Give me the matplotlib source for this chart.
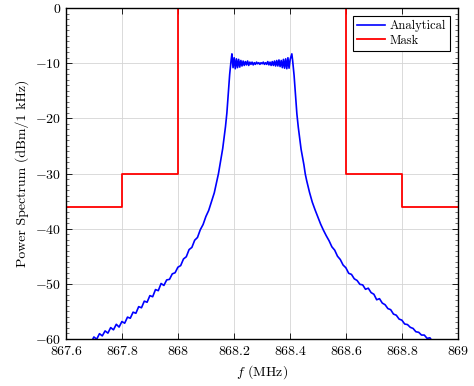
import numpy as np
import matplotlib
matplotlib.use("Agg")
import matplotlib.pyplot as plt
from matplotlib.ticker import MultipleLocator

plt.rcParams['font.family'] = 'serif'
plt.rcParams['font.serif'] = ['cmr10', 'DejaVu Serif']
plt.rcParams['mathtext.fontset'] = 'cm'
plt.rcParams['axes.formatter.use_mathtext'] = True

# Analytical spectrum (MHz, dBm/1kHz)
freq = [867.68, 867.69, 867.70, 867.71, 867.72, 867.73, 867.74, 867.75, 867.76, 867.77,
        867.78, 867.79, 867.80, 867.81, 867.82, 867.83, 867.84, 867.85, 867.86, 867.87,
        867.88, 867.89, 867.90, 867.91, 867.92, 867.93, 867.94, 867.95, 867.96, 867.97,
        867.98, 867.99, 868.00, 868.01, 868.02, 868.03, 868.04, 868.05, 868.06, 868.07,
        868.08, 868.09, 868.10, 868.11, 868.12, 868.13, 868.14, 868.145, 868.15, 868.16,
        868.17, 868.175, 868.18, 868.185, 868.19, 868.193,
        868.197, 868.201, 868.205, 868.209, 868.213, 868.217, 868.221, 868.225, 868.229,
        868.233, 868.237, 868.241, 868.245, 868.249, 868.253, 868.257, 868.261, 868.265,
        868.269, 868.273, 868.277, 868.281, 868.285, 868.289, 868.293, 868.297, 868.301,
        868.305, 868.309, 868.313, 868.317, 868.321, 868.325, 868.329, 868.333, 868.337,
        868.341, 868.345, 868.349, 868.353, 868.357, 868.361, 868.365, 868.369, 868.373,
        868.377, 868.381, 868.385, 868.389, 868.393, 868.397, 868.401, 868.407,
        868.41, 868.415, 868.42, 868.425, 868.43, 868.44, 868.45, 868.455, 868.46, 868.47,
        868.48, 868.49, 868.50, 868.51, 868.52, 868.53, 868.54, 868.55, 868.56, 868.57,
        868.58, 868.59, 868.60, 868.61, 868.62, 868.63, 868.64, 868.65, 868.66, 868.67,
        868.68, 868.69, 868.70, 868.71, 868.72, 868.73, 868.74, 868.75, 868.76, 868.77,
        868.78, 868.79, 868.80, 868.81, 868.82, 868.83, 868.84, 868.85, 868.86, 868.87,
        868.88, 868.89, 868.90, 868.91, 868.92, 868.93]
power = [-60.25, -60.65, -59.65, -60.05, -59.05, -59.45, -58.55, -58.95, -57.95, -58.35,
         -57.35, -57.85, -56.85, -57.15, -56.05, -56.25, -55.15, -55.35, -54.15, -54.35,
         -53.15, -53.35, -52.15, -52.35, -51.05, -51.25, -49.95, -50.3, -49.3, -49.2,
         -48.2, -48.0, -47.0, -46.7, -45.5, -45.1, -43.8, -43.4, -42.1, -41.6,
         -40.2, -39.25, -37.8, -36.7, -35.1, -33.5, -31.2, -30.0, -28.5, -25.5,
         -21.5, -19.0, -15.5, -12.0, -9.5, -8.3,
         -10.8, -9.0, -11.0, -9.2, -10.8, -9.3, -10.7, -9.5, -10.5,
         -9.6, -10.4, -9.7, -10.3, -9.6, -10.4, -9.8, -10.2, -9.8,
         -10.3, -9.9, -10.2, -9.8, -10.1, -9.9, -10.2, -9.9, -10.1,
         -9.8, -10.2, -9.9, -10.2, -9.7, -10.3, -9.8, -10.4, -9.7,
         -10.4, -9.6, -10.5, -9.5, -10.5, -9.4, -10.6, -9.5, -10.8,
         -9.3, -10.9, -9.2, -11.0, -9.0, -10.9, -9.3, -8.3,
         -9.6, -12.2, -15.6, -19.2, -21.6, -25.6, -28.4, -30.1, -31.3, -33.4,
         -35.2, -36.6, -37.9, -39.2, -40.3, -41.3, -42.2, -43.3, -43.9, -45.0,
         -45.6, -46.6, -47.1, -48.1, -48.3, -49.1, -49.4, -50.1, -50.2, -51.0,
         -50.8, -51.6, -51.9, -52.9, -52.7, -53.5, -53.8, -54.5, -54.7, -55.5,
         -55.7, -56.4, -56.6, -57.3, -57.4, -57.9, -58.1, -58.7, -58.8, -59.3,
         -59.3, -59.9, -59.8, -60.5, -60.4, -60.9]

# Spectral mask
mask_freq = [867.6, 867.8, 867.8, 868.0, 868.0, 868.6, 868.6, 868.8, 868.8, 869.0]
mask_power = [-36, -36, -30, -30, 0, 0, -30, -30, -36, -36]

xticks = [867.6, 867.8, 868.0, 868.2, 868.4, 868.6, 868.8, 869.0]
xtick_labels = ['867.6', '867.8', '868', '868.2', '868.4', '868.6', '868.8', '869']
yticks = [-60, -50, -40, -30, -20, -10, 0]

fig = plt.figure(figsize=(4.74, 3.86), dpi=100)
ax = fig.add_axes([0.139, 0.122, 0.827, 0.857])

ax.plot(freq, power, color='blue', lw=1.2, label='Analytical')
ax.plot(mask_freq, mask_power, color='red', lw=1.3, label='Mask')

ax.set_xlim(867.6, 869.0)
ax.set_ylim(-60, 0)
ax.set_xticks(xticks)
ax.set_xticklabels(xtick_labels)
ax.set_yticks(yticks)
ax.yaxis.set_minor_locator(MultipleLocator(1))
ax.tick_params(which='both', direction='in', top=True, right=True, labelsize=10)
ax.tick_params(which='major', length=4, width=0.6)
ax.tick_params(axis='x', which='major', pad=5)
ax.tick_params(which='minor', length=2, width=0.4)
ax.grid(which='major', color='#d4d4d4', lw=0.6)
ax.set_axisbelow(True)
for s in ax.spines.values():
    s.set_linewidth(1.0)

ax.set_xlabel('$f$ (MHz)', fontsize=10)
ax.set_ylabel('Power Spectrum (dBm/1 kHz)', fontsize=10)

leg = ax.legend(loc='upper right', fontsize=9, fancybox=False, framealpha=1,
                edgecolor='black', handlelength=2.2, borderaxespad=0.6,
                handletextpad=0.4, borderpad=0.35, labelspacing=0.2)
leg.get_frame().set_linewidth(0.8)

fig.savefig('out.png', dpi=100)
